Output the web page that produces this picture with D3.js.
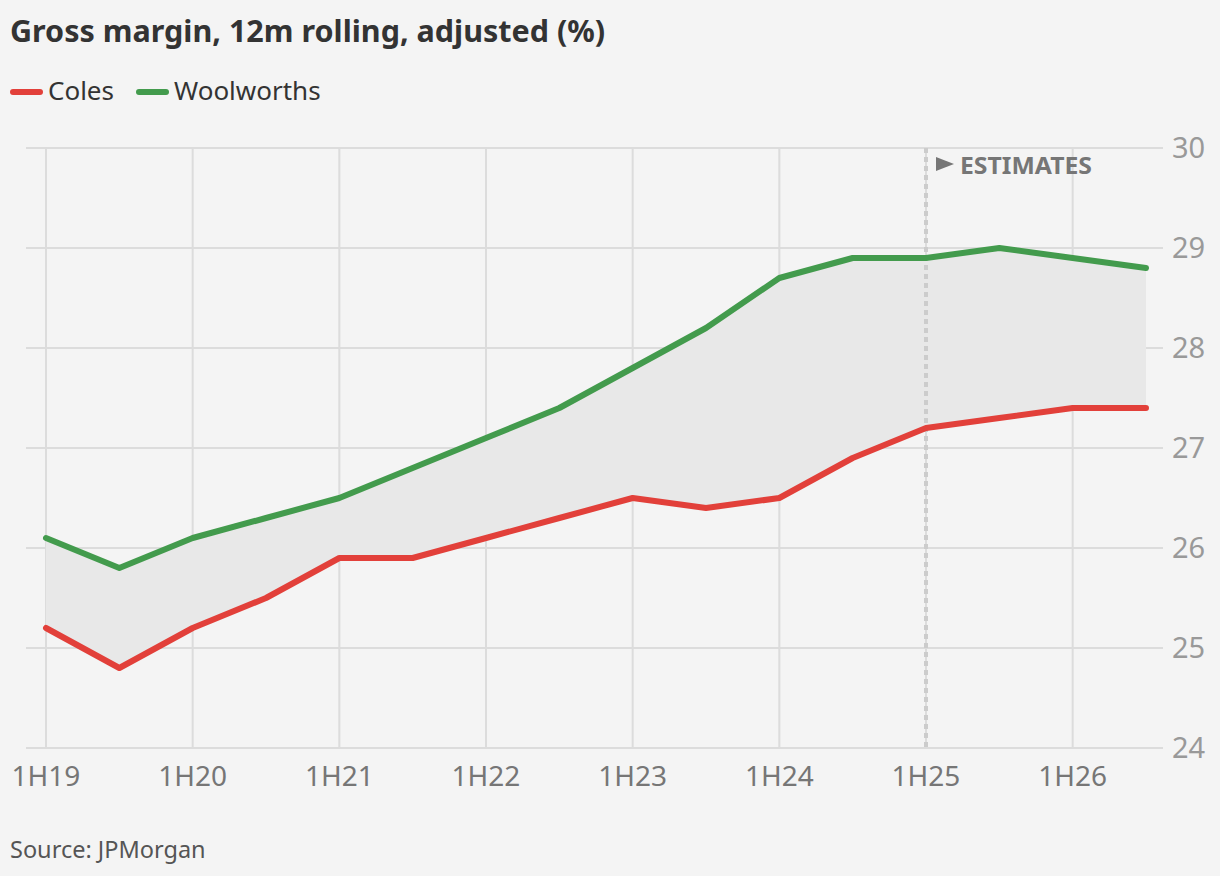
<!DOCTYPE html>
<html>
<head>
<meta charset="utf-8">
<script src="https://cdn.jsdelivr.net/npm/d3@7"></script>
<style>
  html, body { margin: 0; padding: 0; background: #f4f4f4; }
  svg { display: block; font-family: "Noto Sans", "Open Sans", sans-serif; }
</style>
</head>
<body>
<svg id="chart"></svg>
<script>
const periods = ["1H19","2H19","1H20","2H20","1H21","2H21","1H22","2H22","1H23","2H23","1H24","2H24","1H25","2H25","1H26","2H26"];
const tickLabels = ["1H19","1H20","1H21","1H22","1H23","1H24","1H25","1H26"];
const yTicks = [24, 25, 26, 27, 28, 29, 30];
const coles = [25.2, 24.8, 25.2, 25.5, 25.9, 25.9, 26.1, 26.3, 26.5, 26.4, 26.5, 26.9, 27.2, 27.3, 27.4, 27.4];
const woolworths = [26.1, 25.8, 26.1, 26.3, 26.5, 26.8, 27.1, 27.4, 27.8, 28.2, 28.7, 28.9, 28.9, 29.0, 28.9, 28.8];
const estimatesFrom = "1H25";

const width = 1220, height = 876;
const margin = {top: 148, right: 74, bottom: 128, left: 46};

const svg = d3.select("#chart")
  .attr("width", width)
  .attr("height", height)
  .attr("viewBox", [0, 0, width, height]);

svg.append("rect").attr("width", width).attr("height", height).attr("fill", "#f4f4f4");

const x = d3.scalePoint()
  .domain(periods)
  .range([margin.left, width - margin.right]);

const y = d3.scaleLinear()
  .domain([24, 30])
  .range([height - margin.bottom, margin.top]);

// horizontal grid
svg.append("g")
  .selectAll("line")
  .data(yTicks)
  .join("line")
  .attr("x1", 26)
  .attr("x2", 1163)
  .attr("y1", d => y(d))
  .attr("y2", d => y(d))
  .attr("stroke", "#dcdcdc")
  .attr("stroke-width", 2);

// vertical grid
svg.append("g")
  .selectAll("line")
  .data(tickLabels)
  .join("line")
  .attr("x1", d => x(d))
  .attr("x2", d => x(d))
  .attr("y1", y(30))
  .attr("y2", y(24))
  .attr("stroke", "#dcdcdc")
  .attr("stroke-width", 2);

const rows = periods.map((p, i) => ({p, c: coles[i], w: woolworths[i]}));

// band between lines
svg.append("path")
  .datum(rows)
  .attr("fill", "#e8e8e8")
  .attr("d", d3.area()
    .x(d => x(d.p))
    .y0(d => y(d.c))
    .y1(d => y(d.w)));

// estimates marker
svg.append("line")
  .attr("x1", x(estimatesFrom))
  .attr("x2", x(estimatesFrom))
  .attr("y1", y(30))
  .attr("y2", y(24))
  .attr("stroke", "#cccccc")
  .attr("stroke-width", 4)
  .attr("stroke-dasharray", "5,4");

svg.append("path")
  .attr("d", `M${x(estimatesFrom) + 10},${157}l18,7l-18,7z`)
  .attr("fill", "#767676");

svg.append("text")
  .attr("x", x(estimatesFrom) + 34)
  .attr("y", 174)
  .attr("fill", "#767676")
  .attr("font-size", 23)
  .attr("font-weight", 700)
  .attr("textLength", 132)
  .attr("lengthAdjust", "spacingAndGlyphs")
  .text("ESTIMATES");

const line = d3.line()
  .x(d => x(d.p))
  .y(d => d.v);

const series = [
  {name: "Coles", color: "#e2403a", values: coles},
  {name: "Woolworths", color: "#439b4d", values: woolworths}
];

series.forEach(s => {
  svg.append("path")
    .datum(periods.map((p, i) => ({p, v: y(s.values[i])})))
    .attr("fill", "none")
    .attr("stroke", s.color)
    .attr("stroke-width", 6)
    .attr("stroke-linejoin", "round")
    .attr("stroke-linecap", "round")
    .attr("d", line);
});

// y axis labels (right)
svg.append("g")
  .selectAll("text")
  .data(yTicks)
  .join("text")
  .attr("x", 1172)
  .attr("y", d => y(d) + 10)
  .attr("fill", "#999999")
  .attr("font-size", 29)
  .text(d => d);

// x axis labels
svg.append("g")
  .selectAll("text")
  .data(tickLabels)
  .join("text")
  .attr("x", d => x(d))
  .attr("y", 786)
  .attr("text-anchor", "middle")
  .attr("fill", "#767676")
  .attr("font-size", 28)
  .text(d => d);

// title
svg.append("text")
  .attr("x", 10)
  .attr("y", 42)
  .attr("fill", "#333333")
  .attr("font-size", 30.5)
  .attr("font-weight", 700)
  .text("Gross margin, 12m rolling, adjusted (%)");

// legend
let lx = 10;
series.forEach(s => {
  svg.append("line")
    .attr("x1", lx + 3).attr("x2", lx + 30)
    .attr("y1", 92).attr("y2", 92)
    .attr("stroke", s.color)
    .attr("stroke-width", 6)
    .attr("stroke-linecap", "round");
  const t = svg.append("text")
    .attr("x", lx + 38)
    .attr("y", 100)
    .attr("fill", "#333333")
    .attr("font-size", 26)
    .text(s.name);
  lx += 38 + t.node().getComputedTextLength() + 22;
});

// source
svg.append("text")
  .attr("x", 10)
  .attr("y", 858)
  .attr("fill", "#555555")
  .attr("font-size", 23.5)
  .text("Source: JPMorgan");
</script>
</body>
</html>
